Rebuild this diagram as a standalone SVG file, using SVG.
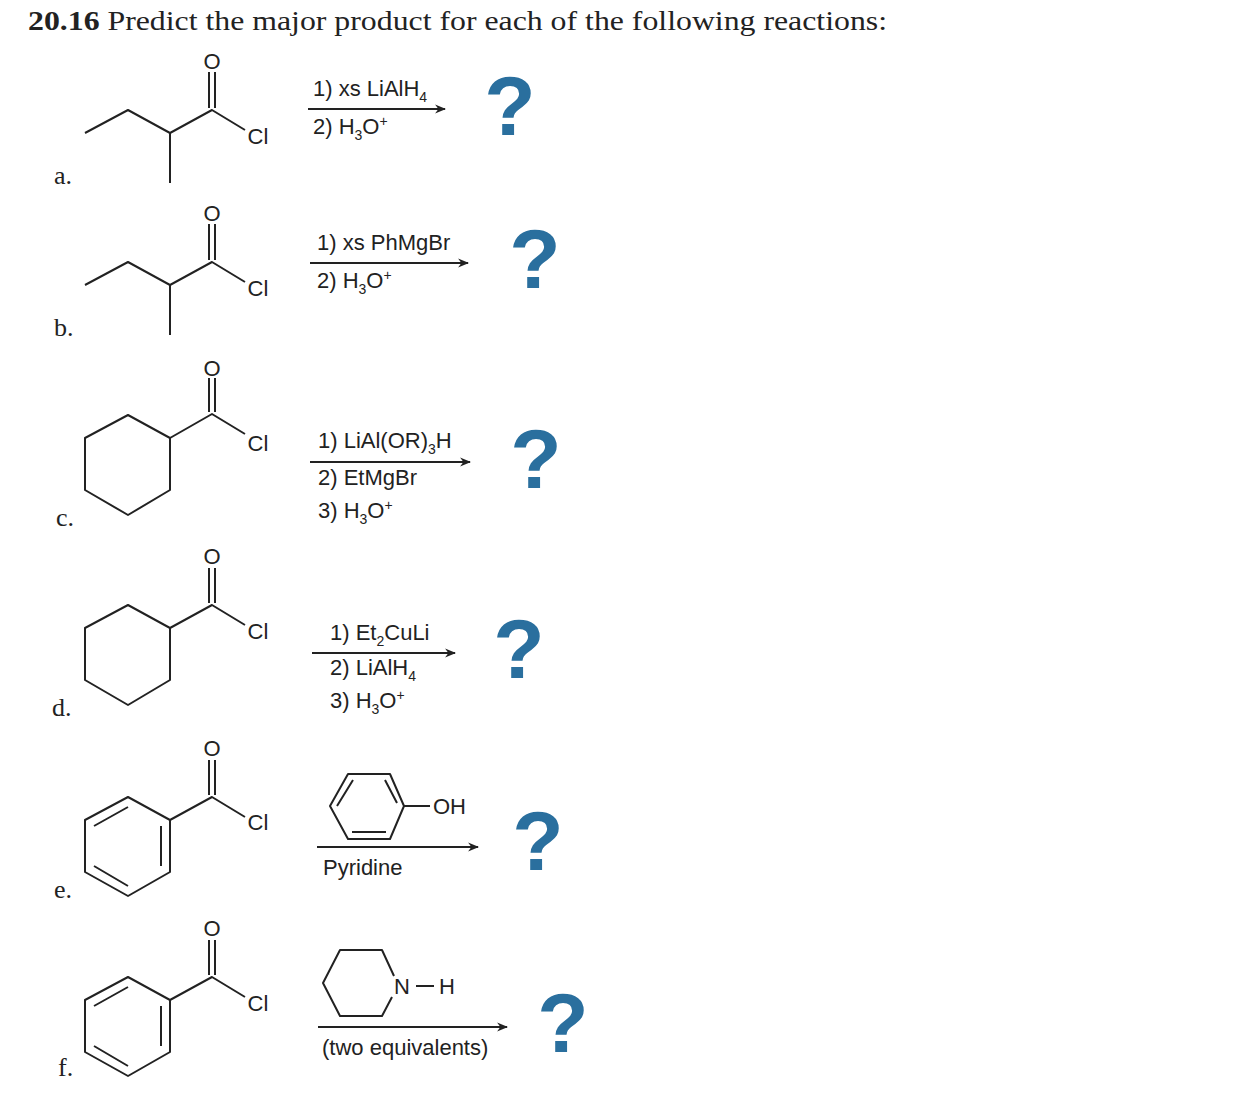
<svg xmlns="http://www.w3.org/2000/svg" width="1254" height="1104" viewBox="0 0 1254 1104">
<defs>
<marker id="ah" viewBox="0 0 10 10" refX="9" refY="5" markerWidth="11" markerHeight="11" orient="auto" markerUnits="userSpaceOnUse"><path d="M0,1 L10,5 L0,9 L3,5 Z" fill="#222"/></marker>
</defs>
<style>
.b{stroke:#222;stroke-width:2;fill:none;stroke-linejoin:round}
.t{font-family:"Liberation Sans",Arial,sans-serif;font-size:22px;fill:#222}
.s{font-size:14px}
.q{font-family:"Liberation Sans",Arial,sans-serif;font-size:84px;font-weight:bold;fill:#2a6f9e;text-anchor:middle}
.lab{font-family:"Liberation Serif","Times New Roman",serif;font-size:26px;fill:#222}
.arr{stroke:#222;stroke-width:2;marker-end:url(#ah)}
</style>
<rect width="1254" height="1104" fill="#fff"/>
<text x="28" y="30" font-family="Liberation Serif,serif" font-size="28" fill="#222" textLength="859" lengthAdjust="spacingAndGlyphs"><tspan font-weight="bold">20.16</tspan> Predict the major product for each of the following reactions:</text>

<g id="a">
<path class="b" d="M85,133 L128,110 L170,133 L212,110 L245,130 M170,133 L170,183 M209,108 L209,72 M215,108 L215,72"/>
<text class="t" x="212" y="69" text-anchor="middle">O</text>
<text class="t" x="258" y="144" text-anchor="middle">Cl</text>
<text class="lab" x="54" y="184">a.</text>
<text class="t" x="313" y="96">1) xs LiAlH<tspan class="s" dy="6">4</tspan></text>
<text class="t" x="313" y="134">2) H<tspan class="s" dy="6">3</tspan><tspan dy="-6">O</tspan><tspan class="s" dy="-8">+</tspan></text>
<text class="q" x="510" y="135">?</text>
</g>
<g id="b">
<path class="b" d="M85,285 L128,262 L170,285 L212,262 L245,282 M170,285 L170,335 M209,260 L209,224 M215,260 L215,224"/>
<text class="t" x="212" y="221" text-anchor="middle">O</text>
<text class="t" x="258" y="296" text-anchor="middle">Cl</text>
<text class="lab" x="54" y="336">b.</text>
<text class="t" x="317" y="250">1) xs PhMgBr</text>
<text class="t" x="317" y="288">2) H<tspan class="s" dy="6">3</tspan><tspan dy="-6">O</tspan><tspan class="s" dy="-8">+</tspan></text>
<text class="q" x="535" y="288">?</text>
</g>
<g id="c">
<path class="b" d="M128,415 L170,438 L170,490 L128,515 L85,490 L85,438 Z M170,438 L212,414 L245,434 M209,412 L209,378 M215,412 L215,378"/>
<text class="t" x="212" y="376" text-anchor="middle">O</text>
<text class="t" x="258" y="451" text-anchor="middle">Cl</text>
<text class="lab" x="56" y="526">c.</text>
<text class="t" x="318" y="448">1) LiAl(OR)<tspan class="s" dy="6">3</tspan><tspan dy="-6">H</tspan></text>
<text class="t" x="318" y="485">2) EtMgBr</text>
<text class="t" x="318" y="518">3) H<tspan class="s" dy="6">3</tspan><tspan dy="-6">O</tspan><tspan class="s" dy="-8">+</tspan></text>
<text class="q" x="536" y="488">?</text>
</g>
<g id="d">
<path class="b" d="M128,605 L170,628 L170,680 L128,705 L85,680 L85,628 Z M170,628 L212,605 L245,625 M209,603 L209,568 M215,603 L215,568"/>
<text class="t" x="212" y="564" text-anchor="middle">O</text>
<text class="t" x="258" y="639" text-anchor="middle">Cl</text>
<text class="lab" x="52" y="716">d.</text>
<text class="t" x="330" y="640">1) Et<tspan class="s" dy="6">2</tspan><tspan dy="-6">CuLi</tspan></text>
<text class="t" x="330" y="675">2) LiAlH<tspan class="s" dy="6">4</tspan></text>
<text class="t" x="330" y="708">3) H<tspan class="s" dy="6">3</tspan><tspan dy="-6">O</tspan><tspan class="s" dy="-8">+</tspan></text>
<text class="q" x="519" y="678">?</text>
</g>
<g id="e">
<path class="b" d="M128,797 L170,820 L170,872 L128,896 L85,872 L85,820 Z M170,820 L212,797 L245,817 M209,795 L209,760 M215,795 L215,760 M94,826 L128,807 M161,826 L161,866 M94,866 L128,886"/>
<text class="t" x="212" y="756" text-anchor="middle">O</text>
<text class="t" x="258" y="830" text-anchor="middle">Cl</text>
<text class="lab" x="54" y="898">e.</text>
<path class="b" d="M330,806 L348,774 L390,774 L404,806 L390,839 L348,839 Z M337,806 L353,780 M385,780 L397,803 M352,832 L386,832 M404,806 L430,806"/>
<text class="t" x="433" y="814">OH</text>
<line class="arr" x1="317" y1="847" x2="478" y2="847"/>
<text class="t" x="323" y="875">Pyridine</text>
<text class="q" x="538" y="870">?</text>
</g>
<g id="f">
<path class="b" d="M394,976 L382,950 L340,950 L323,983 L340,1016 L382,1016 L392,997 M416,986 L434,986"/>
<text class="t" x="402" y="994" text-anchor="middle">N</text>
<text class="t" x="447" y="994" text-anchor="middle">H</text>
<path class="b" d="M128,977 L170,1000 L170,1052 L128,1076 L85,1052 L85,1000 Z M170,1000 L212,977 L245,997 M209,975 L209,940 M215,975 L215,940 M94,1006 L128,987 M161,1006 L161,1046 M94,1046 L128,1066"/>
<text class="t" x="212" y="936" text-anchor="middle">O</text>
<text class="t" x="258" y="1011" text-anchor="middle">Cl</text>
<text class="lab" x="58" y="1076">f.</text>
<line class="arr" x1="318" y1="1027" x2="507" y2="1027"/>
<text class="t" x="322" y="1055">(two equivalents)</text>
<text class="q" x="563" y="1052">?</text>
</g>
<g id="connectors">
<line class="arr" x1="308" y1="109" x2="445" y2="109"/>
<line class="arr" x1="310" y1="263" x2="468" y2="263"/>
<line class="arr" x1="310" y1="462" x2="470" y2="462"/>
<line class="arr" x1="312" y1="653" x2="455" y2="653"/>
</g>
</svg>
